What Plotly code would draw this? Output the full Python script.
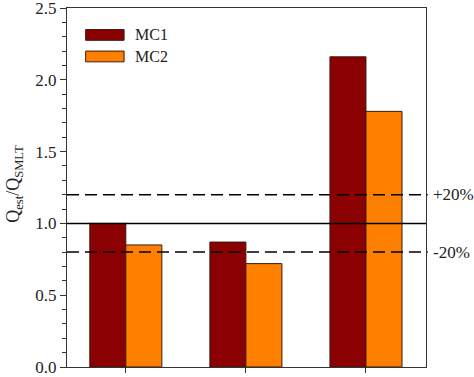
import plotly.graph_objects as go

categories = ["A", "B", "C"]
mc1 = [1.00, 0.87, 2.16]
mc2 = [0.85, 0.72, 1.78]
series_names = ["MC1", "MC2"]
colors = ["#8B0000", "#FF8000"]
ref_lines = [1.2, 1.0, 0.8]
ref_labels = ["+20%", "-20%"]
y_ticks = [0.0, 0.5, 1.0, 1.5, 2.0, 2.5]

FONT = "Liberation Serif"

fig = go.Figure()
for name, vals, col in zip(series_names, [mc1, mc2], colors):
    fig.add_trace(go.Bar(x=categories, y=vals, name=name, marker_color=col,
                         marker_line=dict(color="#3a1a10", width=1),
                         showlegend=False))

shapes = []
shapes.append(dict(type="line", xref="paper", yref="y", x0=0, x1=1.005, y0=ref_lines[0], y1=ref_lines[0],
                   line=dict(color="black", width=1.5, dash="12px,6px")))
shapes.append(dict(type="line", xref="paper", yref="y", x0=0, x1=1, y0=ref_lines[1], y1=ref_lines[1],
                   line=dict(color="black", width=1.5)))
shapes.append(dict(type="line", xref="paper", yref="y", x0=0, x1=1.005, y0=ref_lines[2], y1=ref_lines[2],
                   line=dict(color="black", width=1.5, dash="12px,6px")))

annotations = [
    dict(text=ref_labels[0], xref="paper", yref="y", x=1.013, y=ref_lines[0], xanchor="left", yanchor="middle",
         showarrow=False, font=dict(family=FONT, size=17, color="#222")),
    dict(text=ref_labels[1], xref="paper", yref="y", x=1.013, y=ref_lines[2], xanchor="left", yanchor="middle",
         showarrow=False, font=dict(family=FONT, size=17, color="#222")),
    dict(text="Q<sub>est</sub>/Q<sub>SMLT</sub>", xref="paper", yref="paper", x=-0.145, y=0.51,
         xanchor="center", yanchor="middle", textangle=-90, showarrow=False,
         font=dict(family=FONT, size=18, color="#222")),
]

leg_y = [0.925, 0.865]
for name, col, yy in zip(series_names, colors, leg_y):
    shapes.append(dict(type="rect", xref="paper", yref="paper", x0=0.052, x1=0.159, y0=yy - 0.015, y1=yy + 0.015,
                       fillcolor=col, line=dict(color="#3a1a10", width=1)))
    annotations.append(dict(text=name, xref="paper", yref="paper", x=0.185, y=yy, xanchor="left", yanchor="middle",
                            showarrow=False, font=dict(family=FONT, size=16, color="#222")))

fig.update_layout(
    template="none",
    width=474, height=377, autosize=False,
    margin=dict(l=67, r=48, t=8, b=10, pad=0),
    plot_bgcolor="white", paper_bgcolor="white",
    barmode="group", bargap=0.4, bargroupgap=0,
    shapes=shapes, annotations=annotations,
    font=dict(family=FONT, size=17, color="#222"),
    showlegend=False,
)
fig.update_xaxes(range=[-0.49, 2.5], showline=True, linecolor="#333", linewidth=1, mirror=True, automargin=False,
                 ticks="outside", ticklen=5, tickcolor="#333", showticklabels=False, showgrid=False, zeroline=False)
fig.update_yaxes(range=[0, 2.5], tickvals=y_ticks, tickformat=".1f", automargin=False, ticklabeloverflow="allow",
                 showline=True, linecolor="#333", linewidth=1,
                 mirror=True, ticks="outside", ticklen=6, tickcolor="#333", showgrid=False, zeroline=False,
                 minor=dict(dtick=0.1, ticks="outside", ticklen=4, tickcolor="#333", showgrid=False),
                 tickfont=dict(family=FONT, size=17, color="#222"))

fig.write_html("out.html", config={"displayModeBar": False},
               post_script="document.body.style.margin='0';document.body.style.overflow='hidden';")
